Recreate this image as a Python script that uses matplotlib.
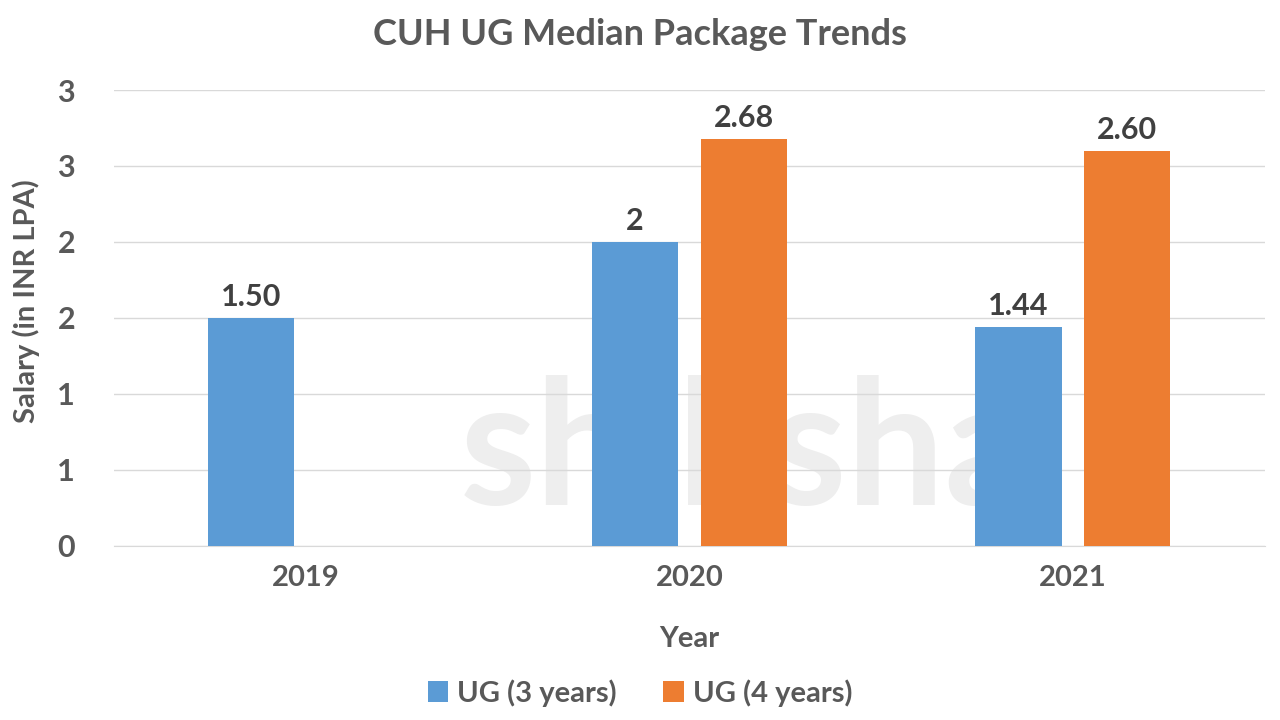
import matplotlib.pyplot as plt
import numpy as np

plt.rcParams['font.family'] = ['Lato', 'DejaVu Sans']
plt.rcParams['font.weight'] = 'bold'

years = ['2019', '2020', '2021']
ug3 = [1.50, 2.00, 1.44]
ug4 = [np.nan, 2.68, 2.60]
ug3_labels = ['1.50', '2', '1.44']
ug4_labels = ['', '2.68', '2.60']
yticks = [0, 0.5, 1, 1.5, 2, 2.5, 3]
ytick_labels = ['0', '1', '1', '2', '2', '3', '3']

blue = '#5B9BD5'
orange = '#ED7D31'
grey = '#595959'

fig = plt.figure(figsize=(12.8, 7.2), dpi=100)
ax = fig.add_axes([0.089, 0.2417, 0.899, 0.6333])

x = np.arange(len(years))
w = 0.225
off = 0.142
b1 = ax.bar(x - off, ug3, w, color=blue, label='UG (3 years)', zorder=3)
b2 = ax.bar(x + off, ug4, w, color=orange, label='UG (4 years)', zorder=3)

for rect, lab in zip(b1, ug3_labels):
    ax.annotate(lab, (rect.get_x() + rect.get_width() / 2, rect.get_height()),
                xytext=(0, 5), textcoords='offset points', ha='center', va='bottom',
                fontsize=22, color='#404040', fontweight='bold')
for rect, lab in zip(b2, ug4_labels):
    if lab:
        ax.annotate(lab, (rect.get_x() + rect.get_width() / 2, rect.get_height()),
                    xytext=(0, 5), textcoords='offset points', ha='center', va='bottom',
                    fontsize=22, color='#404040', fontweight='bold')

# faint watermark
ax.text(0.55, 0.2, 'shiksha', transform=ax.transAxes, fontsize=125, color='#eeeeee',
        ha='center', va='center', zorder=0, fontweight='bold')

ax.set_xlim(-0.5, 2.5)
ax.set_ylim(0, 3)
ax.set_yticks(yticks)
ax.set_yticklabels(ytick_labels)
ax.set_xticks(x)
ax.set_xticklabels(years)
ax.tick_params(axis='y', length=0, pad=28, labelsize=22, labelcolor=grey)
ax.tick_params(axis='x', length=0, pad=14, labelsize=21, labelcolor=grey)
ax.grid(axis='y', color='#d9d9d9', linewidth=1, zorder=0)
for s in ['top', 'right', 'left']:
    ax.spines[s].set_visible(False)
ax.spines['bottom'].set_color('#d9d9d9')

ax.set_xlabel('Year', fontsize=21, color=grey, labelpad=25, fontweight='bold')
ax.set_ylabel('Salary (in INR LPA)', fontsize=21, color=grey, fontweight='bold')
ax.yaxis.set_label_coords(-0.064, 0.537)
fig.suptitle('CUH UG Median Package Trends', x=0.5, y=0.975, fontsize=26, color=grey,
             fontweight='bold')

leg = fig.legend(handles=[b1, b2], loc='lower center', ncol=2, frameon=False,
                 bbox_to_anchor=(0.5, -0.018), fontsize=21, handlelength=0.7,
                 handleheight=0.7, handletextpad=0.3, columnspacing=1.6)
for t in leg.get_texts():
    t.set_color(grey)

fig.savefig('out.png', dpi=100)
